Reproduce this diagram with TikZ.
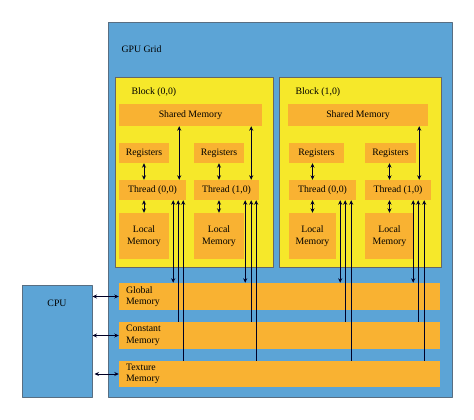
\documentclass[tikz,border=0pt]{standalone}
\usepackage{fontspec}
\setmainfont{Liberation Serif}
\usetikzlibrary{arrows.meta}
\definecolor{gridblue}{RGB}{92,164,214}
\definecolor{blockyel}{RGB}{246,232,42}
\definecolor{memorange}{RGB}{249,178,50}
\definecolor{edgegray}{RGB}{88,110,130}
\begin{document}
\begin{tikzpicture}[x=1pt, y=-1pt, font=\fontsize{9.8}{11.5}\selectfont, line join=round, >={Stealth[length=4.5pt, width=4pt]},
		outer/.style={draw=edgegray, line width=1pt, fill=gridblue, inner sep=0pt},
		blk/.style={draw=gray!80!black, line width=0.6pt, fill=blockyel, inner sep=0pt},
		mem/.style={fill=memorange, inner sep=0pt, align=center},
		wide/.style={fill=memorange, inner xsep=7pt, inner ysep=0pt, text width=307pt, align=left, minimum height=27pt},
		wire/.style={line width=0.9pt, black!85!blue}]
		\useasboundingbox (0,0) rectangle (474,420);
		% grid and host
		\node[outer, minimum width=344pt, minimum height=374pt] (grid) at (280,210) {};
		\node[anchor=west] (gridlbl) at (118,49) {GPU Grid};
		\node[outer, minimum width=70pt, minimum height=112pt] (cpu) at (57,341) {};
		\node (cpulbl) at (57,303) {CPU};
		% blocks
		\node[blk, minimum width=158pt, minimum height=190pt] (b0) at (194,172) {};
		\node[blk, minimum width=162pt, minimum height=190pt] (b1) at (360,172) {};
		\node[anchor=west] (b0lbl) at (128,92) {Block (0,0)};
		\node[anchor=west] (b1lbl) at (292,92) {Block (1,0)};
		\node[mem, minimum width=143pt, minimum height=22pt] (sh0) at (190.5,115) {Shared Memory};
		\node[mem, minimum width=140pt, minimum height=22pt] (sh1) at (358,115) {Shared Memory};
		% block (0,0)
		\node[mem, minimum width=50pt, minimum height=20pt] (r00) at (144,153) {Registers};
		\node[mem, minimum width=50pt, minimum height=20pt] (r10) at (219,153) {Registers};
		\node[mem, minimum width=67pt, minimum height=20pt] (t00) at (152.5,190) {Thread (0,0)};
		\node[mem, minimum width=65pt, minimum height=20pt] (t10) at (226.5,190) {Thread (1,0)};
		\node[mem, minimum width=50pt, minimum height=46pt] (l00) at (144,236) {Local\\Memory};
		\node[mem, minimum width=50pt, minimum height=46pt] (l10) at (219,236) {Local\\Memory};
		% block (1,0)
		\node[mem, minimum width=55pt, minimum height=20pt] (s00) at (316.5,153) {Registers};
		\node[mem, minimum width=51pt, minimum height=20pt] (s10) at (390.5,153) {Registers};
		\node[mem, minimum width=67pt, minimum height=20pt] (u00) at (322.5,190) {Thread (0,0)};
		\node[mem, minimum width=66pt, minimum height=20pt] (u10) at (398,190) {Thread (1,0)};
		\node[mem, minimum width=47pt, minimum height=46pt] (m00) at (312.5,236) {Local\\Memory};
		\node[mem, minimum width=49pt, minimum height=46pt] (m10) at (389.5,236) {Local\\Memory};
		% device memories
		\node[wide] (glob) at (279.5,296.5) {Global\\Memory};
		\node[wide] (cmem) at (279.5,335.5) {Constant\\Memory};
		\node[wide, minimum height=26pt] (tmem) at (279.5,374) {Texture\\Memory};
		% registers and local memory
		\foreach \r/\t/\l in {r00/t00/l00, r10/t10/l10, s00/u00/m00, s10/u10/m10} {
			\draw[wire, <->] (\l.north |- \r.south) -- (\l.north |- \t.north);
			\draw[wire, <->] (\l.north |- \t.south) -- (\l.north);
		}
		% shared memory
		\draw[wire, <->] ([xshift=-7]t00.north east) coordinate (p) -- (p |- sh0.south);
		\draw[wire, <->] ([xshift=-8]t10.north east) coordinate (p) -- (p |- sh0.south);
		\draw[wire, <->] ([xshift=-12]u10.north east) coordinate (p) -- (p |- sh1.south);
		% threads to device memories
		\foreach \t/\a/\b/\c in {t00/-13/-8/-3, t10/-14/-8/-3, u00/-16/-11/-5, u10/-18/-13/-7} {
			\draw[wire, <->] ([xshift=\a]\t.south east) coordinate (p) -- (p |- glob.north);
			\draw[wire, <-] ([xshift=\b]\t.south east) coordinate (p) -- (p |- cmem.north);
			\draw[wire, <-] ([xshift=\c]\t.south east) coordinate (p) -- (p |- tmem.north);
		}
		% host transfers
		\draw[wire, <->] (cpu.east |- glob.west) -- (glob.west);
		\draw[wire, <->] (cpu.east |- cmem.west) -- (cmem.west);
		\draw[wire, <->] ([xshift=2]cpu.east |- tmem.west) -- (tmem.west);
	\end{tikzpicture}
\end{document}
